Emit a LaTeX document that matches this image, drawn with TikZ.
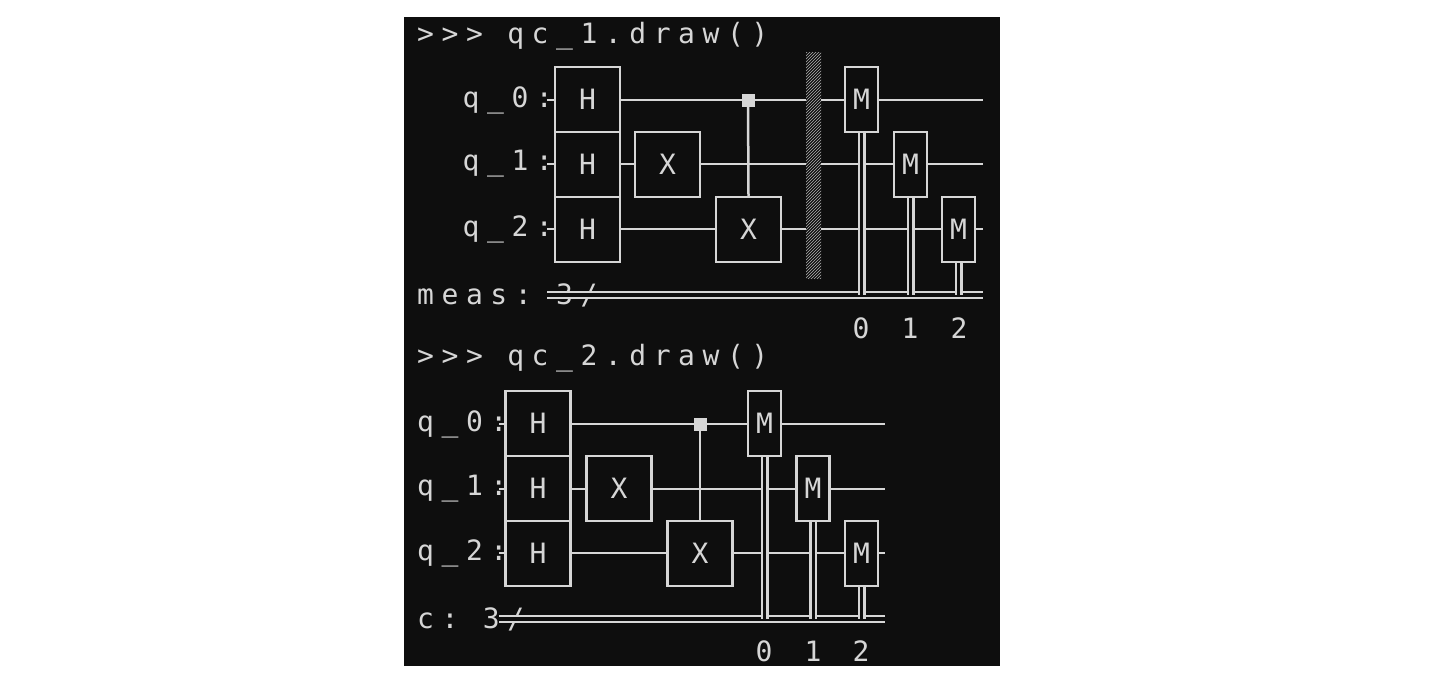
\documentclass[tikz,border=0pt]{standalone}
\usepackage{fontspec}
\setmonofont[LetterSpace=27]{DejaVu Sans Mono}
\usetikzlibrary{patterns}
\definecolor{bg}{HTML}{0E0E0E}
\definecolor{fg}{HTML}{D6D6D6}
\tikzset{
  txt/.style={text=fg,font=\ttfamily\fontsize{28}{28}\selectfont,inner sep=0pt},
  wire/.style={draw=fg,line width=2.5pt},
  gate/.style={draw=fg,line width=2.5pt,fill=bg,txt,minimum width=#1,minimum height=65pt},
  gate/.default=65pt,
  ctrl/.style={fill=fg,minimum size=13pt,inner sep=0pt},
  cbus/.style={draw=fg,double=bg,double distance=3.5pt,line width=2.5pt},
  cvert/.style={draw=fg,double=bg,double distance=3pt,line width=2.5pt},
}
\begin{document}
\begin{tikzpicture}[x=1pt,y=-1pt]
\useasboundingbox (0,0) rectangle (1440,694);
\fill[white] (0,0) rectangle (1440,694);
\fill[bg] (404,17) rectangle (1000,666);
% ===== circuit 1
\node[txt,anchor=west] (t1) at (417,36) {>>> qc\_1.draw()};
\node[txt,anchor=east] (l0) at (553,100) {q\_0:};
\node[txt,anchor=east] (l1) at (553,164) {q\_1:};
\node[txt,anchor=east] (l2) at (553,229) {q\_2:};
\node[txt,anchor=west] (lm) at (417,295) {meas: 3/};
\foreach \y/\n in {100/0,164/1,229/2}{
  \coordinate (a\n) at (547,\y); \coordinate (b\n) at (806,\y);
  \coordinate (c\n) at (821,\y); \coordinate (d\n) at (983,\y);
  \draw[wire] (a\n) -- (b\n); \draw[wire] (c\n) -- (d\n);
}
\coordinate (ma) at (547,295); \coordinate (mb) at (983,295);
\draw[cbus] (ma) -- (mb);
\node[txt] (n0) at (861,328) {0};
\node[txt] (n1) at (910,328) {1};
\node[txt] (n2) at (959,328) {2};
\node[gate] (h0) at (587.5,99.5) {H};
\node[gate] (h1) at (587.5,164.5) {H};
\node[gate] (h2) at (587.5,229.5) {H};
\node[gate] (x1) at (667.5,164.5) {X};
\node[gate] (x2) at (748.5,229.5) {X};
\node[ctrl] (cc) at (748,100) {};
\draw[wire] (cc) -- (x2.north);
\node[fill=bg!70!gray!60,pattern=north east lines,pattern color=gray!60,minimum width=15pt,minimum height=226pt,inner sep=0pt] (bar) at (813.5,165) {};
\node[gate=33pt] (m0) at (861.5,99.5) {M};
\node[gate=33pt] (m1) at (910.5,164.5) {M};
\node[gate=33pt] (m2) at (958.5,229.5) {M};
\foreach \m in {0,1,2}{ \draw[cvert] (m\m.south) -- (m\m.south |- ma); }
% ===== circuit 2
\node[txt,anchor=west] (t2) at (417,358) {>>> qc\_2.draw()};
\node[txt,anchor=west] (k0) at (417,424) {q\_0:};
\node[txt,anchor=west] (k1) at (417,489) {q\_1:};
\node[txt,anchor=west] (k2) at (417,553) {q\_2:};
\node[txt,anchor=west] (kc) at (417,619) {c: 3/};
\foreach \y/\n in {424/0,489/1,553/2}{
  \coordinate (e\n) at (499,\y); \coordinate (f\n) at (885,\y);
  \draw[wire] (e\n) -- (f\n);
}
\coordinate (ca) at (499,619); \coordinate (cb) at (885,619);
\draw[cbus] (ca) -- (cb);
\node[txt] (o0) at (764,651) {0};
\node[txt] (o1) at (813,651) {1};
\node[txt] (o2) at (861,651) {2};
\node[gate] (g0) at (538,423.5) {H};
\node[gate] (g1) at (538,488.5) {H};
\node[gate] (g2) at (538,553.5) {H};
\node[gate] (y1) at (619,488.5) {X};
\node[gate] (y2) at (700,553.5) {X};
\node[ctrl] (dd) at (700,424) {};
\draw[wire] (dd) -- (y2.north);
\node[gate=33pt] (p0) at (764.5,423.5) {M};
\node[gate=33pt] (p1) at (813,488.5) {M};
\node[gate=33pt] (p2) at (861.5,553.5) {M};
\foreach \m in {0,1,2}{ \draw[cvert] (p\m.south) -- (p\m.south |- ca); }
\end{tikzpicture}
\end{document}
